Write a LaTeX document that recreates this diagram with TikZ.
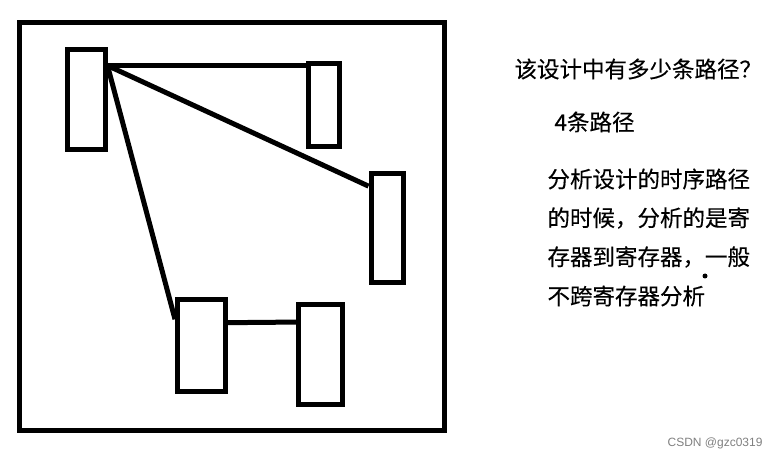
\documentclass[tikz,border=0pt]{standalone}
\usepackage{fontspec}
\setsansfont{Liberation Sans}
\newfontfamily\cjk[FakeBold=0.3]{Noto Sans CJK SC}
\usetikzlibrary{positioning}

\begin{document}
\begin{tikzpicture}[x=1pt, y=-1pt, line width=5pt,
  reg/.style={draw, rectangle, inner sep=0pt},
  wire/.style={line width=5pt},
  note/.style={anchor=west, inner sep=0pt, font=\cjk\fontsize{22.5}{27}\selectfont}]
\useasboundingbox (0,0) rectangle (779,462);
% Design boundary and registers
\node[reg, minimum width=424.5pt, minimum height=407.5pt] (design) at (231.75,226.25) {};
\node[reg, minimum width=38pt, minimum height=100pt] (regA) at (86,100) {};
\node[reg, minimum width=31pt, minimum height=83pt] (regB) at (323.5,105) {};
\node[reg, minimum width=32.5pt, minimum height=108.5pt] (regC) at (387.25,228.25) {};
\node[reg, minimum width=47.5pt, minimum height=92pt] (regD) at (201.25,345.5) {};
\node[reg, minimum width=43.5pt, minimum height=99.5pt] (regE) at (320.25,354.25) {};

% Paths
\draw[wire] (regA.58) -- (regA.58 -| regB.west);
\draw[wire] (regA.58) -- (regC.114);
\draw[wire] (regA.58) -- (regD.135);
\draw[wire] (regD.41) -- (regE.127);

% Notes
\node[note] (question) at (512,69) {该设计中有多少条路径？};
\node[note] (answer) at (552,122) {4条路径};
\node[note] (line1) at (545,179) {分析设计的时序路径};
\node[note] (line2) at (545,218) {的时候，分析的是寄};
\node[note] (line3) at (545,257) {存器到寄存器，一般};
\node[note] (line4) at (545,296) {不跨寄存器分析};
\fill (705,276) circle (2.5pt);

\node[anchor=east, inner sep=0pt, text=black!50, font=\sffamily\fontsize{12}{14}\selectfont] (mark) at (765,443) {CSDN @gzc0319};
\end{tikzpicture}
\end{document}
